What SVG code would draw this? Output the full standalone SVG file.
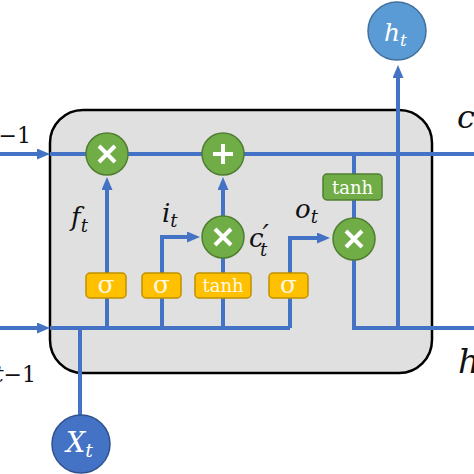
<svg xmlns="http://www.w3.org/2000/svg" width="474" height="474" viewBox="0 0 474 474">
<style>
.ln{fill:none;stroke:#4472C4;stroke-width:4;stroke-linejoin:miter}
.op{fill:#70AD47;stroke:#507E32;stroke-width:1.5}
.sym{stroke:#fff;stroke-width:4;stroke-linecap:butt;fill:none}
.gate{fill:#FFC000;stroke:#BF9000;stroke-width:1.5}
.gtx{font-family:"DejaVu Serif","Liberation Serif",serif;fill:#FFF8E0;text-anchor:middle}
.tg{fill:#70AD47;stroke:#507E32;stroke-width:1.5}
.lab{font-family:"DejaVu Serif","Liberation Serif",serif;font-style:italic;fill:#111}
.wl{font-family:"DejaVu Serif","Liberation Serif",serif;font-style:italic;fill:#fff}
.up{font-style:normal}
</style>
<defs>
<marker id="ar" viewBox="0 0 13 11" markerWidth="13" markerHeight="11" refX="5" refY="5.5" orient="auto" markerUnits="userSpaceOnUse">
<path d="M0,0 L13,5.5 L0,11 z" fill="#4472C4"/>
</marker>
</defs>
<rect width="474" height="474" fill="#fff"/>
<g id="cell">
<rect x="50" y="110" width="382" height="263" rx="33" ry="33" fill="#E0E0E0" stroke="#000" stroke-width="2.5"/>
</g>
<g id="connectors">
<path class="ln" d="M0,154 H42" marker-end="url(#ar)"/>
<path class="ln" d="M50,154 H474"/>
<path class="ln" d="M0,328 H42" marker-end="url(#ar)"/>
<path class="ln" d="M50,328 H290"/>
<path class="ln" d="M80,416 V328"/>
<path class="ln" d="M107,328 V185" marker-end="url(#ar)"/>
<path class="ln" d="M162,328 V237 H192" marker-end="url(#ar)"/>
<path class="ln" d="M223,328 V258"/>
<path class="ln" d="M223,216 V185" marker-end="url(#ar)"/>
<path class="ln" d="M290,328 V238 H322" marker-end="url(#ar)"/>
<path class="ln" d="M354,154 V328 H474"/>
<path class="ln" d="M398,328 V73" marker-end="url(#ar)"/>
</g>
<g id="forget-mul">
<circle class="op" cx="107" cy="154" r="21"/>
<path class="sym" d="M99,146 L115,162 M115,146 L99,162"/>
</g>
<g id="add">
<circle class="op" cx="223" cy="154" r="21"/>
<path class="sym" d="M213,154 H233 M223,144 V164"/>
</g>
<g id="input-mul">
<circle class="op" cx="223" cy="237" r="21"/>
<path class="sym" d="M215,229 L231,245 M231,229 L215,245"/>
</g>
<g id="output-mul">
<circle class="op" cx="354" cy="239" r="21"/>
<path class="sym" d="M346,231 L362,247 M362,231 L346,247"/>
</g>
<g id="tanh-out">
<rect class="tg" x="323" y="174" width="59" height="26" rx="4"/>
<text class="gtx" x="352.5" y="193.5" font-size="18" style="fill:#fff">tanh</text>
</g>
<g id="sigma-f">
<rect class="gate" x="86" y="273" width="40" height="25" rx="4"/>
<text class="gtx" x="106" y="293" font-size="25">σ</text>
</g>
<g id="sigma-i">
<rect class="gate" x="142" y="273" width="39" height="25" rx="4"/>
<text class="gtx" x="161.5" y="293" font-size="25">σ</text>
</g>
<g id="tanh-c">
<rect class="gate" x="195" y="273" width="56" height="25" rx="4"/>
<text class="gtx" x="223" y="291.5" font-size="18">tanh</text>
</g>
<g id="sigma-o">
<rect class="gate" x="269" y="273" width="39" height="25" rx="4"/>
<text class="gtx" x="288.5" y="293" font-size="25">σ</text>
</g>
<g id="ht">
<circle cx="397" cy="31" r="29" fill="#5B9BD5" stroke="#41719C" stroke-width="1.5"/>
<text class="wl" x="384" y="41" font-size="25">h<tspan font-size="17" dy="5">t</tspan></text>
</g>
<g id="xt">
<circle cx="81" cy="444" r="29" fill="#4472C4" stroke="#2F528F" stroke-width="1.5"/>
<text class="wl" x="66" y="452" font-size="27">X<tspan font-size="19" dy="5">t</tspan></text>
</g>
<g id="labels">
<text class="lab" x="71" y="226" font-size="26">f<tspan font-size="18" dy="6">t</tspan></text>
<text class="lab" x="162" y="222" font-size="26">i<tspan font-size="18" dy="5">t</tspan></text>
<text class="lab" x="295" y="218" font-size="26">o<tspan font-size="18" dy="5">t</tspan></text>
<text class="lab" x="249" y="247" font-size="26">c<tspan font-size="28" dx="-1" dy="-2">′</tspan><tspan font-size="18" dx="-9" dy="11">t</tspan></text>
<text class="lab" x="457" y="128" font-size="32">c<tspan font-size="22" dy="7">t</tspan></text>
<text class="lab" x="458" y="373" font-size="34">h<tspan font-size="22" dy="7">t</tspan></text>
<text class="lab" x="31" y="143" font-size="32" text-anchor="end">c<tspan font-size="22">t</tspan><tspan class="up" font-size="22">−1</tspan></text>
<text class="lab" x="36" y="382" font-size="34" text-anchor="end">h<tspan font-size="22">t</tspan><tspan class="up" font-size="22">−1</tspan></text>
</g>
</svg>
